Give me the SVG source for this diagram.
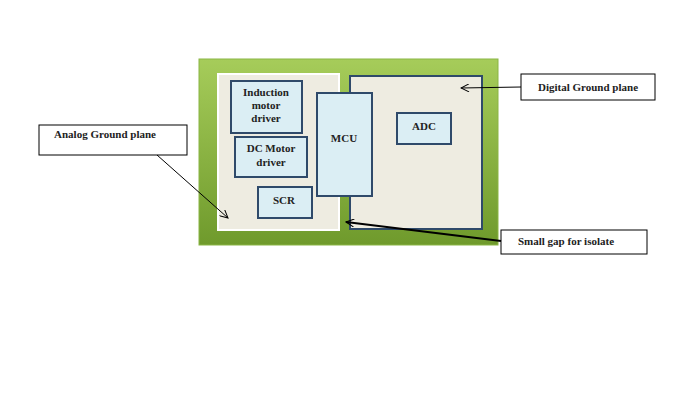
<svg xmlns="http://www.w3.org/2000/svg" width="694" height="403" viewBox="0 0 694 403">
<defs>
<linearGradient id="g" x1="0" y1="0" x2="0" y2="1"><stop offset="0" stop-color="#a6cc5a"/><stop offset="1" stop-color="#6f9a2c"/></linearGradient>
<marker id="a" markerWidth="10" markerHeight="8" refX="9" refY="4" orient="auto" markerUnits="userSpaceOnUse"><path d="M1,0 L9,4 L1,8" fill="none" stroke="#000" stroke-width="1"/></marker>
</defs>
<style>
.b{fill:#dbeef4;stroke:#2f4a6a;stroke-width:2}
.t{font-family:"Liberation Serif",serif;font-weight:bold;font-size:11px;text-anchor:middle;fill:#222}
.l{fill:#fff;stroke:#000;stroke-width:1}
.c{stroke:#000;stroke-width:1;fill:none}
</style>
<rect width="694" height="403" fill="#fff"/>
<g id="board"><rect x="199" y="59" width="299" height="186" fill="url(#g)" stroke="#8ab545"/></g>
<g id="analog"><rect x="218" y="74" width="121" height="156" fill="#eeece1" stroke="#fff" stroke-width="2"/></g>
<g id="digital"><rect x="350" y="76" width="132" height="153" fill="#eeece1" stroke="#2f4a6a" stroke-width="2"/></g>
<g id="induction"><rect class="b" x="231" y="81" width="71" height="52"/><text class="t" x="266" y="96">Induction</text><text class="t" x="266" y="109">motor</text><text class="t" x="266" y="122">driver</text></g>
<g id="dc"><rect class="b" x="235" y="137" width="72" height="40"/><text class="t" x="271" y="152">DC Motor</text><text class="t" x="271" y="166">driver</text></g>
<g id="scr"><rect class="b" x="258" y="187" width="54" height="31"/><text class="t" x="284" y="204">SCR</text></g>
<g id="mcu"><rect class="b" x="317" y="93" width="55" height="103"/><text class="t" x="344" y="142">MCU</text></g>
<g id="adc"><rect class="b" x="397" y="113" width="54" height="31"/><text class="t" x="424" y="130">ADC</text></g>
<g id="lblDigital"><rect class="l" x="521" y="74" width="134" height="26"/><text class="t" x="588" y="91">Digital Ground plane</text></g>
<g id="lblAnalog"><rect class="l" x="39" y="125" width="148" height="30"/><text class="t" x="105" y="138">Analog Ground plane</text></g>
<g id="lblGap"><rect class="l" x="501" y="230" width="146" height="24"/><text class="t" x="566" y="245">Small gap for isolate</text></g>
<g id="connectors">
<line class="c" x1="521" y1="87" x2="461" y2="88" marker-end="url(#a)"/>
<line class="c" x1="157" y1="155" x2="228" y2="218" marker-end="url(#a)"/>
<line class="c" x1="501" y1="241" x2="346" y2="222" style="stroke-width:2" marker-end="url(#a)"/>
</g>
</svg>
